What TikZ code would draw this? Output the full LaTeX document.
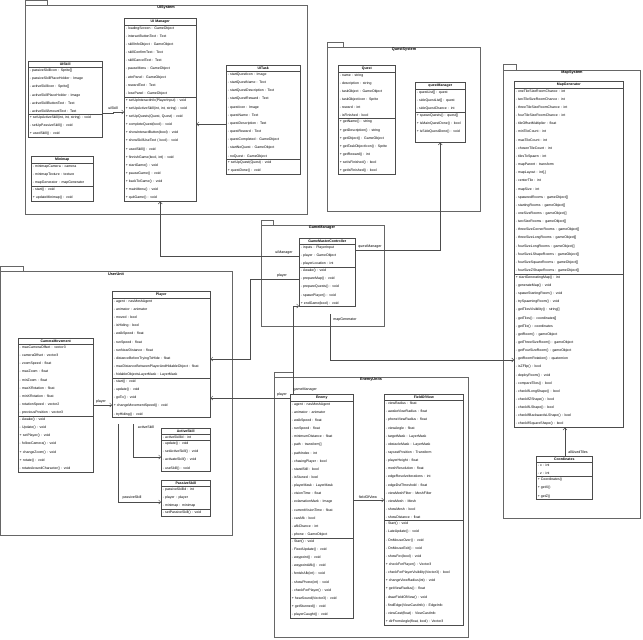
\documentclass[tikz,border=0pt]{standalone}
\usepackage{fontspec}
\setmainfont{Liberation Sans}
\usetikzlibrary{shapes.multipart,arrows.meta}
\tikzset{
  cls/.style={draw=black!70, line width=0.5pt, rectangle split, rectangle split parts=3,
    inner xsep=1.5pt, inner ysep=1.5pt, anchor=north west, fill=white,
    font=\fontsize{3.5}{8.15}\selectfont, align=left},
  pkg/.style={draw=black!60, line width=0.5pt},
  pkglabel/.style={font=\fontsize{3.8}{5}\selectfont\bfseries},
  assoc/.style={draw=black!70, line width=0.5pt, -{Straight Barb[length=2pt,width=4pt]}},
  lbl/.style={font=\fontsize{3.6}{5}\selectfont, inner sep=0.5pt}
}
\newcommand\cls[7]{\node[cls, text width=#4pt] (#1) at (#2,#3) {\makebox[#4pt]{\textbf{#5}}\nodepart{two}#6\nodepart{three}#7};}
\begin{document}
\begin{tikzpicture}[x=1pt,y=-1pt]
\useasboundingbox (0,0) rectangle (643,640);
% packages
\draw[pkg] (25,0) rectangle (47,5); \draw[pkg] (25,5) rectangle (307,214);
\node[pkglabel] at (166,8) {UISystem};
\draw[pkg] (327,42) rectangle (343,47); \draw[pkg] (327,47) rectangle (480,211);
\node[pkglabel] at (404,50) {QuestSystem};
\draw[pkg] (503,64) rectangle (516,70); \draw[pkg] (503,70) rectangle (640,518);
\node[pkglabel] at (572,73) {MapSystem};
\draw[pkg] (261,220) rectangle (273,225); \draw[pkg] (261,225) rectangle (384,326);
\node[pkglabel] at (322,228) {GameManager};
\draw[pkg] (0,266) rectangle (23,271); \draw[pkg] (0,271) rectangle (232,535);
\node[pkglabel] at (116,274) {UserUnit};
\draw[pkg] (274,372) rectangle (293,377); \draw[pkg] (274,377) rectangle (468,637);
\node[pkglabel] at (371,380) {EnemyUnits};

\cls{uim}{124}{18}{69}{UI Manager}{- loadingScreen : GameObject\\- interactButtonText : Text\\- skillInfoObject : GameObject\\- skillConfirmText : Text\\- skillCancelText : Text\\- pauseMenu : GameObject\\- winPanel : GameObject\\- rewardText : Text\\- losePanel : GameObject}{+ setUpInteractInfo(PlayerInput) : void\\+ setUpActiveSkill(int, int, string) : void\\+ setUpQuests(Quest, Quest) : void\\+ completeQuest(bool) : void\\+ showInteractButton(bool) : void\\+ showSkillUseText ( bool) : void\\+ usedSkill() : void\\+ finnishGame(bool, int) : void\\+ startGame() : void\\+ pauseGame() : void\\+ backToGame() : void\\+ mainMenu() : void\\+ quitGame() : void}
\cls{uiskill}{28}{61}{71}{UISkill}{- passiveSkillIcon : Sprite[]\\- passiveSkillPlaceHolder : Image\\- activeSkillIcon : Sprite[]\\- activeSkillPlaceHolder : Image\\- activeSkillButtonText : Text\\- activeSkillAmountText : Text}{+ setUpActiveSkill(int, int, string) : void\\- setUpPassiveSkill() : void\\+ usedSkill() : void}
\cls{minimap}{31}{156}{59}{Minimap}{- minimapCamera : camera\\- minimapTexture : texture\\- mapGenerator : mapGenerator}{- start() : void\\+ updateMinimap() : void}
\cls{uitask}{226}{65}{71}{UITask}{- startQuestIcon : Image\\- startQuestName : Text\\- startQuestDescription : Text\\- startQuestReward : Text\\- questIcon : Image\\- questName : Text\\- questDescription : Text\\- questReward : Text\\- questCompleted : GameObject\\- startNoQuest : GameObject\\- noQuest : GameObject}{+ setUpQuest(Quest) : void\\+ questDone() : void}
\cls{quest}{338}{65}{54}{Quest}{- name : string\\- description : string\\- taskObject : GameObject\\- taskObjectIcon : Sprite\\- reward : int\\- isFinished : bool}{+ getName() : string\\+ getDescription() : string\\+ getObject() : GameObject\\+ getTaskObjectIcon() : Sprite\\+ getReward() : int\\+ setIsFinished() : bool\\+ getIsFinished() : bool}
\cls{qm}{415}{82}{47}{questManager}{- questList[] : quest\\- sideQuestList[] : quest\\- sideQuestChance : int}{+ spawnQuests() : quest[]\\+ isMainQuestDone() : bool\\+ isSideQuestDone() : void\\~}
\cls{mapgen}{514}{81}{106}{MapGenerator}{- oneTileSizeRoomChance : int\\- twoTileSizeRoomChance : int\\- threeTileSizeRoomChance : int\\- fourTileSizeRoomChance : int\\- tileOffsetMultiplier : float\\- minTileCount : int\\- maxTileCount : int\\- chosenTileCount : int\\- tilesToSpawn : int\\- mapParent : transform\\- mapLayout : int[,]\\- centerTile : int\\- mapSize : int\\- spawnedRooms : gameObject[]\\- startingRooms : gameObject[]\\- oneSizeRooms : gameObject[]\\- twoSizeRooms : gameObject[]\\- threeSizeCornerRooms : gameObject[]\\- threeSizeLongRooms : gameObject[]\\- fourSizeLongRooms : gameObject[]\\- fourSizeLShapeRooms : gameObject[]\\- fourSizeSquareRooms : gameObject[]\\- fourSizeZShapeRooms : gameObject[]}{+ startGeneratingMap() : int\\- generateMap() : void\\- spawnStartingRoom() : void\\- trySpawningRoom() : void\\- getTilesVisibility() : string[]\\- getTiles() : coordinates[]\\- getTile() : coordinates\\- getRoom() : gameObject\\- getThreeSizeRoom() : gameObject\\- getFourSizeRoom() : gameObject\\- getRoomRotation() : quaternion\\- isZFlip() : bool\\- deployRoom() : void\\- compareTiles() : bool\\- checkIfLongShape() : bool\\- checkIfZShape() : bool\\- checkIfLShape() : bool\\- checkIfBackwardsLShape() : bool\\- checkIfSquareShape() : bool}
\cls{coord}{536}{456}{53}{Coordinates}{- x : int\\- z : int}{+ Coordinates()\\+ getX()\\+ getZ()}
\cls{gmc}{299}{238}{53}{GameMasterController}{- inputs : PlayerInput\\- player : GameObject\\- playerLocation : int}{- Awake() : void\\- prepareMap() : void\\- prepareQuests() : void\\- spawnPlayer() : void\\+ endGame(bool) : void}
\cls{player}{112}{291}{95}{Player}{- agent : navMeshAgent\\- animator : animator\\- moved : bool\\- isHiding : bool\\- walkSpeed : float\\- runSpeed : float\\- runNearDistance : float\\- distanceBeforeTryingToHide : float\\- maxDistanceBetweenPlayerAndHidableObject : float\\- hidableObjectsLayerMask : LayerMask}{- start() : void\\- update() : void\\- goTo() : void\\+ changeMovementSpeed() : void\\- tryHiding() : void}
\cls{cam}{18}{338}{72}{CameraMovement}{- maxCameraOffset : vector3\\- cameraOffset : vector3\\- zoomSpeed : float\\- maxZoom : float\\- minZoom : float\\- maxXRotation : float\\- minXRotation : float\\- rotationSpeed : vector2\\- previousPosition : vector3}{- Awake() : void\\- Update() : void\\+ setPlayer() : void\\- followCamera() : void\\+ changeZoom() : void\\+ rotate() : void\\- rotateAroundCharacter() : void}
\cls{active}{161}{428}{46}{ActiveSkill}{- activeSkillId : int}{- update() : void\\- setActiveSkill() : void\\- activateSkill() : void\\- useSkill() : void}
\cls{passive}{161}{480}{46}{PassiveSkill}{- passiveSkillId : int\\- player : player\\- minimap : minimap}{- setPassiveSkill() : void}
\cls{enemy}{290}{394}{60}{Enemy}{- agent : navMeshAgent\\- animator : animator\\- walkSpeed : float\\- runSpeed : float\\- minimumDistance : float\\- path : transform[]\\- pathIndex : int\\- chasingPlayer : bool\\- standStill : bool\\- isStuned : bool\\- playerMask : LayerMask\\- visionTime : float\\- exlamationMark : Image\\- currentVisionTime : float\\- canAfk : bool\\- afkChance : int\\- phone : GameObject}{- Start() : void\\- FixedUpdate() : void\\- waypoint() : void\\- waypointAfk() : void\\- fenishAfk(int) : void\\- showPhone(int) : void\\- checkForPlayer() : void\\+ hearSound(Vector3) : void\\+ getStunned() : void\\- playerCaught() : void}
\cls{fov}{384}{394}{76}{FieldOfView}{- viewRadius : float\\- awakeViewRadius : float\\- phoneViewRadius : float\\- viewAngle : float\\- targetMask : LayerMask\\- obstacleMask : LayerMask\\- raycastPosition : Transform\\- playerHeight : float\\- meshResolution : float\\- edgeResolveIterations : int\\- edgeDstThreshold : float\\- viewMeshFilter : MeshFilter\\- viewMesh : Mesh\\- showMesh : bool\\- showDistance : float}{- Start() : void\\- LateUpdate() : void\\- OnMouseOver() : void\\- OnMouseExit() : void\\- showFov(bool) : void\\+ checkForPlayer() : Vector3\\- checkForPlayerVisibility(Vector3) : bool\\+ changeViewRadius(int) : void\\+ getViewRadius() : float\\- drawFieldOfView() : void\\- findEdge(ViewCastInfo) : EdgeInfo\\- viewCast(float) : ViewCastInfo\\+ dirFromAngle(float, bool) : Vector3}

% connectors
\draw[assoc] (uiskill.east |- 0,113) -- (113,113) -- (113,112) -- (uim.west |- 0,112);
\node[lbl] at (113,108) {uiSkill};
\draw[assoc] (uitask.west |- 0,124) -- (uim.east |- 0,124);
\draw[assoc] (gmc.west |- 0,256) -| (uim.south);
\node[lbl] at (284,253) {uiManager};
\draw[assoc] (gmc.east |- 0,250) -| (qm.south);
\node[lbl] at (370,247) {questManager};
\draw[assoc] (gmc.west |- 0,279) -- (250,279) -- (250,359) -- (player.east |- 0,359);
\node[lbl] at (282,276) {player};
\draw[assoc] (330,314) -- (330,360) -- (mapgen.west |- 0,360);
\node[lbl] at (345,320) {mapGenerator};
\draw[assoc] (293,394) -- (293,306) -- (gmc.west |- 0,306);
\node[lbl,anchor=west] at (293,390) {gameManager};
\draw[assoc] (enemy.west |- 0,398) -- (player.east |- 0,398);
\node[lbl] at (282,395) {player};
\draw[assoc] (enemy.east |- 0,500) -- (fov.west |- 0,500);
\node[lbl] at (368,497) {fieldOfView};
\draw[assoc] (cam.east |- 0,405) -- (player.west |- 0,405);
\node[lbl] at (101,402) {player};
\draw[assoc] (133,424) -- (133,457) -- (active.west |- 0,457);
\node[lbl] at (146,427) {activeSkill};
\draw[assoc] (118,424) -- (118,502) -- (passive.west |- 0,502);
\node[lbl] at (132,498) {passiveSkill};
\draw[assoc] (coord.north -| 565,0) -- (mapgen.south -| 565,0);
\node[lbl] at (578,452) {allUsedTiles};
\end{tikzpicture}
\end{document}
